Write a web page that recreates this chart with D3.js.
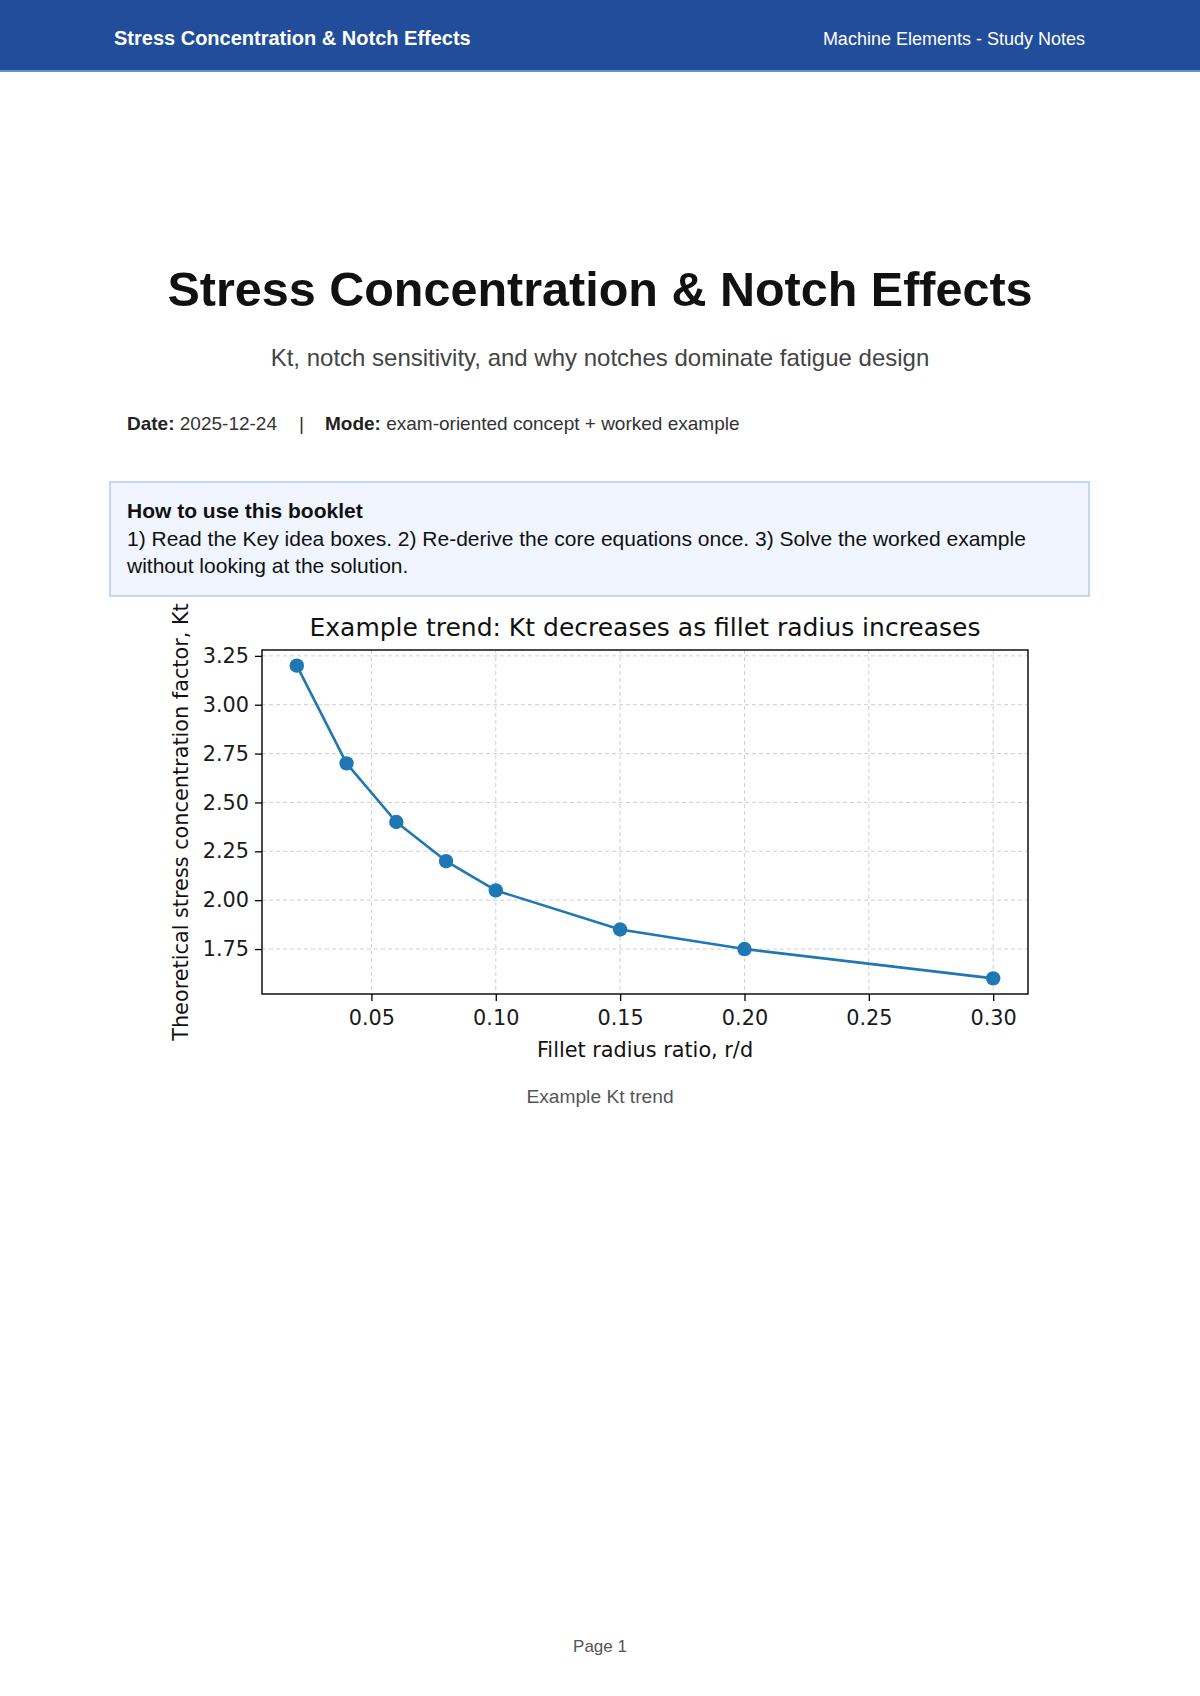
<!DOCTYPE html>
<html>
<head>
<meta charset="utf-8">
<script src="https://cdn.jsdelivr.net/npm/d3@7"></script>
<style>
  html, body { margin: 0; padding: 0; background: #fff; }
  svg { display: block; }
</style>
</head>
<body>
<svg id="page"></svg>
<script>
// chart data
const rdRatio = [0.02, 0.04, 0.06, 0.08, 0.10, 0.15, 0.20, 0.30];
const ktValues = [3.2, 2.7, 2.4, 2.2, 2.05, 1.85, 1.75, 1.6];
const xTicks = [0.05, 0.10, 0.15, 0.20, 0.25, 0.30];
const yTicks = [1.75, 2.00, 2.25, 2.50, 2.75, 3.00, 3.25];

const W = 1200, H = 1696;
const sans = "'Liberation Sans', Arial, Helvetica, sans-serif";
const mpl = "'DejaVu Sans', sans-serif";

const svg = d3.select('#page')
  .attr('width', W)
  .attr('height', H);

// header band
svg.append('rect').attr('x', 0).attr('y', 0).attr('width', W).attr('height', 70).attr('fill', '#214d9a');
svg.append('rect').attr('x', 0).attr('y', 70).attr('width', W).attr('height', 2).attr('fill', '#6a8ed3');

svg.append('text')
  .attr('x', 114).attr('y', 45)
  .style('font', 'bold 20px ' + sans)
  .attr('fill', '#fff')
  .text('Stress Concentration & Notch Effects');

svg.append('text')
  .attr('x', 1085).attr('y', 45)
  .attr('text-anchor', 'end')
  .style('font', '18px ' + sans)
  .attr('fill', '#fff')
  .text('Machine Elements - Study Notes');

// title block
svg.append('text')
  .attr('x', 600).attr('y', 306)
  .attr('text-anchor', 'middle')
  .style('font', 'bold 48.5px ' + sans)
  .attr('fill', '#111')
  .text('Stress Concentration & Notch Effects');

svg.append('text')
  .attr('x', 600).attr('y', 366)
  .attr('text-anchor', 'middle')
  .style('font', '24px ' + sans)
  .attr('fill', '#444')
  .text('Kt, notch sensitivity, and why notches dominate fatigue design');

var meta = svg.append('g')
  .style('font', '19px ' + sans)
  .attr('fill', '#333');
var metaDate = meta.append('text').attr('x', 127).attr('y', 430);
metaDate.append('tspan').style('font-weight', 'bold').attr('fill', '#222').text('Date:');
metaDate.append('tspan').text(' 2025-12-24');
meta.append('text').attr('x', 299).attr('y', 430).text('|');
var metaMode = meta.append('text').attr('x', 325).attr('y', 430);
metaMode.append('tspan').style('font-weight', 'bold').attr('fill', '#222').text('Mode:');
metaMode.append('tspan').text(' exam-oriented concept + worked example');

// info box
svg.append('rect')
  .attr('x', 110).attr('y', 482)
  .attr('width', 979).attr('height', 114)
  .attr('fill', '#f0f5ff')
  .attr('stroke', '#c5d6f7')
  .attr('stroke-width', 2);

svg.append('text')
  .attr('x', 127).attr('y', 518)
  .style('font', 'bold 21px ' + sans)
  .attr('fill', '#111')
  .text('How to use this booklet');

svg.append('text')
  .attr('x', 127).attr('y', 546)
  .style('font', '21px ' + sans)
  .attr('fill', '#111')
  .text('1) Read the Key idea boxes. 2) Re-derive the core equations once. 3) Solve the worked example');

svg.append('text')
  .attr('x', 127).attr('y', 573)
  .style('font', '21px ' + sans)
  .attr('fill', '#111')
  .text('without looking at the solution.');

// chart
const plot = { left: 262, right: 1028, top: 650, bottom: 994 };

var x = d3.scaleLinear()
  .domain([0.006, 0.314])
  .range([plot.left, plot.right]);

var y = d3.scaleLinear()
  .domain([1.52, 3.28])
  .range([plot.bottom, plot.top]);

var chart = svg.append('g');

// grid
chart.append('g').selectAll('line.gx').data(xTicks).enter()
  .append('line')
  .attr('x1', d => x(d)).attr('x2', d => x(d))
  .attr('y1', plot.top).attr('y2', plot.bottom)
  .attr('stroke', '#b0b0b0').attr('stroke-opacity', 0.6)
  .attr('stroke-dasharray', '4,3').attr('stroke-width', 1);

chart.append('g').selectAll('line.gy').data(yTicks).enter()
  .append('line')
  .attr('x1', plot.left).attr('x2', plot.right)
  .attr('y1', d => y(d)).attr('y2', d => y(d))
  .attr('stroke', '#b0b0b0').attr('stroke-opacity', 0.6)
  .attr('stroke-dasharray', '4,3').attr('stroke-width', 1);

// axes
var xAxis = chart.append('g')
  .attr('transform', 'translate(0,' + plot.bottom + ')')
  .call(d3.axisBottom(x).tickValues(xTicks).tickFormat(d3.format('.2f')).tickSize(7).tickPadding(9));

var yAxis = chart.append('g')
  .attr('transform', 'translate(' + plot.left + ',0)')
  .call(d3.axisLeft(y).tickValues(yTicks).tickFormat(d3.format('.2f')).tickSize(7).tickPadding(6));

[xAxis, yAxis].forEach(function (a) {
  a.select('.domain').remove();
  a.selectAll('line').attr('stroke', '#000').attr('stroke-width', 1.3);
  a.selectAll('text')
    .style('font', '20.8px ' + mpl)
    .attr('fill', '#1a1a1a');
});

// spines
chart.append('rect')
  .attr('x', plot.left).attr('y', plot.top)
  .attr('width', plot.right - plot.left)
  .attr('height', plot.bottom - plot.top)
  .attr('fill', 'none')
  .attr('stroke', '#000')
  .attr('stroke-width', 1.4);

// series
var line = d3.line()
  .x((d, i) => x(rdRatio[i]))
  .y(d => y(d));

chart.append('path')
  .datum(ktValues)
  .attr('d', line)
  .attr('fill', 'none')
  .attr('stroke', '#1f77b4')
  .attr('stroke-width', 2.6)
  .attr('stroke-linejoin', 'round');

chart.selectAll('circle').data(ktValues).enter()
  .append('circle')
  .attr('cx', (d, i) => x(rdRatio[i]))
  .attr('cy', d => y(d))
  .attr('r', 7.2)
  .attr('fill', '#1f77b4');

// chart texts
chart.append('text')
  .attr('x', (plot.left + plot.right) / 2).attr('y', 636)
  .attr('text-anchor', 'middle')
  .style('font', '25px ' + mpl)
  .attr('fill', '#111')
  .text('Example trend: Kt decreases as fillet radius increases');

chart.append('text')
  .attr('x', (plot.left + plot.right) / 2).attr('y', 1057)
  .attr('text-anchor', 'middle')
  .style('font', '20.8px ' + mpl)
  .attr('fill', '#111')
  .text('Fillet radius ratio, r/d');

chart.append('text')
  .attr('transform', 'translate(188,' + (plot.top + plot.bottom) / 2 + ') rotate(-90)')
  .attr('text-anchor', 'middle')
  .style('font', '20.8px ' + mpl)
  .attr('fill', '#111')
  .text('Theoretical stress concentration factor, Kt');

// caption and footer
svg.append('text')
  .attr('x', 600).attr('y', 1103)
  .attr('text-anchor', 'middle')
  .style('font', '19.2px ' + sans)
  .attr('fill', '#555')
  .text('Example Kt trend');

svg.append('text')
  .attr('x', 600).attr('y', 1652)
  .attr('text-anchor', 'middle')
  .style('font', '17px ' + sans)
  .attr('fill', '#555')
  .text('Page 1');
</script>
</body>
</html>
